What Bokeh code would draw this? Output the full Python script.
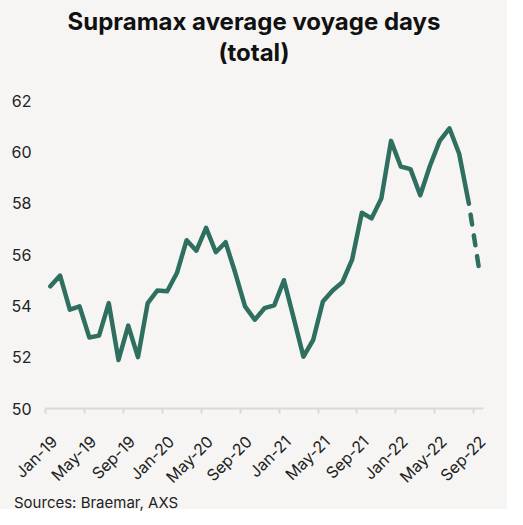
from bokeh.plotting import figure
from bokeh.models import Range1d, FixedTicker, Label, Div
from bokeh.layouts import column
from bokeh.embed import file_html
from bokeh.resources import INLINE

# monthly data, Jan-19 .. Sep-22
months = ["Jan-19", "Feb-19", "Mar-19", "Apr-19", "May-19", "Jun-19", "Jul-19", "Aug-19",
          "Sep-19", "Oct-19", "Nov-19", "Dec-19", "Jan-20", "Feb-20", "Mar-20", "Apr-20",
          "May-20", "Jun-20", "Jul-20", "Aug-20", "Sep-20", "Oct-20", "Nov-20", "Dec-20",
          "Jan-21", "Feb-21", "Mar-21", "Apr-21", "May-21", "Jun-21", "Jul-21", "Aug-21",
          "Sep-21", "Oct-21", "Nov-21", "Dec-21", "Jan-22", "Feb-22", "Mar-22", "Apr-22",
          "May-22", "Jun-22", "Jul-22", "Aug-22", "Sep-22"]
days = [54.76, 55.18, 53.85, 53.98, 52.77, 52.84, 54.11, 51.89,
        53.23, 52.00, 54.11, 54.60, 54.57, 55.28, 56.56, 56.15,
        57.04, 56.09, 56.48, 55.28, 53.98, 53.46, 53.91, 54.02,
        55.00, 53.52, 52.02, 52.67, 54.17, 54.60, 54.92, 55.80,
        57.63, 57.41, 58.18, 60.43, 59.43, 59.33, 58.31, 59.46,
        60.43, 60.92, 59.93, 57.98, 55.54]
n_actual = 44  # last point (Sep-22) is the dashed estimate

y_ticks = [50, 52, 54, 56, 58, 60, 62]
label_every = 4
label_shift = 0.9  # month labels sit a little right of their tick marks

title_lines = ["Supramax average voyage days", "(total)"]
source_text = "Sources: Braemar, AXS"

bg = "#f6f5f3"
green = "#2f6f60"
grey = "#d9d9d9"
font = "Inter"

W, H = 507, 497          # chart part; the source note goes in a strip below
left, right = 45, 24
top_px, axis_px = 100, 407.6   # where the 62 and 50 levels sit
bottom = H - axis_px
ppu = (axis_px - top_px) / (y_ticks[-1] - y_ticks[0])   # pixels per day
ppm = (W - left - right) / len(months)                   # pixels per month
y_top = y_ticks[0] + axis_px / ppu

# each month sits in the middle of its slot, ticks sit on slot edges
xs = [i + 0.5 for i in range(len(months))]
tick_pos = list(range(0, len(months), label_every))

p = figure(width=W, height=H, output_backend="svg", toolbar_location=None,
           x_range=Range1d(0, len(months)), y_range=Range1d(y_ticks[0], y_top),
           min_border_left=left, min_border_right=right, min_border_top=0,
           min_border_bottom=int(round(bottom)),
           background_fill_color=bg, border_fill_color=bg, outline_line_color=None)
p.title = None

# title, centred on the whole figure, drawn in the empty band above the 62 level
title_x = (W / 2 - left) / ppm
for txt, base in zip(title_lines, [21.2, 51.8]):
    p.add_layout(Label(x=title_x, y=y_top - base / ppu, text=txt, text_align="center",
                       text_baseline="alphabetic", text_font=font, text_font_size="24px",
                       text_font_style="bold", text_color="#111111"))

p.line(xs[:n_actual], days[:n_actual], line_color=green, line_width=4.5,
       line_join="round", line_cap="round")
p.line(xs[n_actual - 1:], days[n_actual - 1:], line_color=green, line_width=4.5,
       line_dash="10 11", line_dash_offset=10, line_cap="round")

p.xgrid.visible = False
p.ygrid.visible = False

# x axis: labels as major ticks (shifted), tick marks as minor ticks on slot edges
p.extra_x_ranges = {"labels": Range1d(-label_shift, len(months) - label_shift)}
p.xaxis.x_range_name = "labels"
p.xaxis.ticker = FixedTicker(ticks=tick_pos, minor_ticks=[t - label_shift for t in tick_pos])
p.xaxis.major_label_overrides = {i: months[i] for i in tick_pos}
p.xaxis.major_label_orientation = 0.785
p.xaxis.axis_line_color = grey
p.xaxis.axis_line_width = 2
p.xaxis.major_tick_line_color = None
p.xaxis.major_tick_in = 0
p.xaxis.major_tick_out = 0
p.xaxis.minor_tick_line_color = grey
p.xaxis.minor_tick_line_width = 2
p.xaxis.minor_tick_in = 0
p.xaxis.minor_tick_out = 5
p.xaxis.major_label_text_font = font
p.xaxis.major_label_text_font_size = "16px"
p.xaxis.major_label_text_color = "#222222"
p.xaxis.major_label_standoff = 25

p.yaxis.ticker = FixedTicker(ticks=y_ticks)
p.yaxis.axis_line_color = None
p.yaxis.major_tick_line_color = None
p.yaxis.minor_tick_line_color = None
p.yaxis.major_tick_out = 0
p.yaxis.major_label_standoff = 14
p.yaxis.major_label_text_font = font
p.yaxis.major_label_text_font_size = "16px"
p.yaxis.major_label_text_color = "#222222"

# source note
note = Div(text=source_text, width=W, height=12, margin=(0, 0, 0, 0),
           styles={"background-color": bg, "font-family": font, "font-size": "15px",
                   "color": "#222222", "padding-left": "14px", "line-height": "12px",
                   "box-sizing": "border-box", "overflow": "visible"})

page = column(p, note, spacing=0, styles={"background-color": bg})

open("out.html", "w").write(file_html(page, INLINE))
